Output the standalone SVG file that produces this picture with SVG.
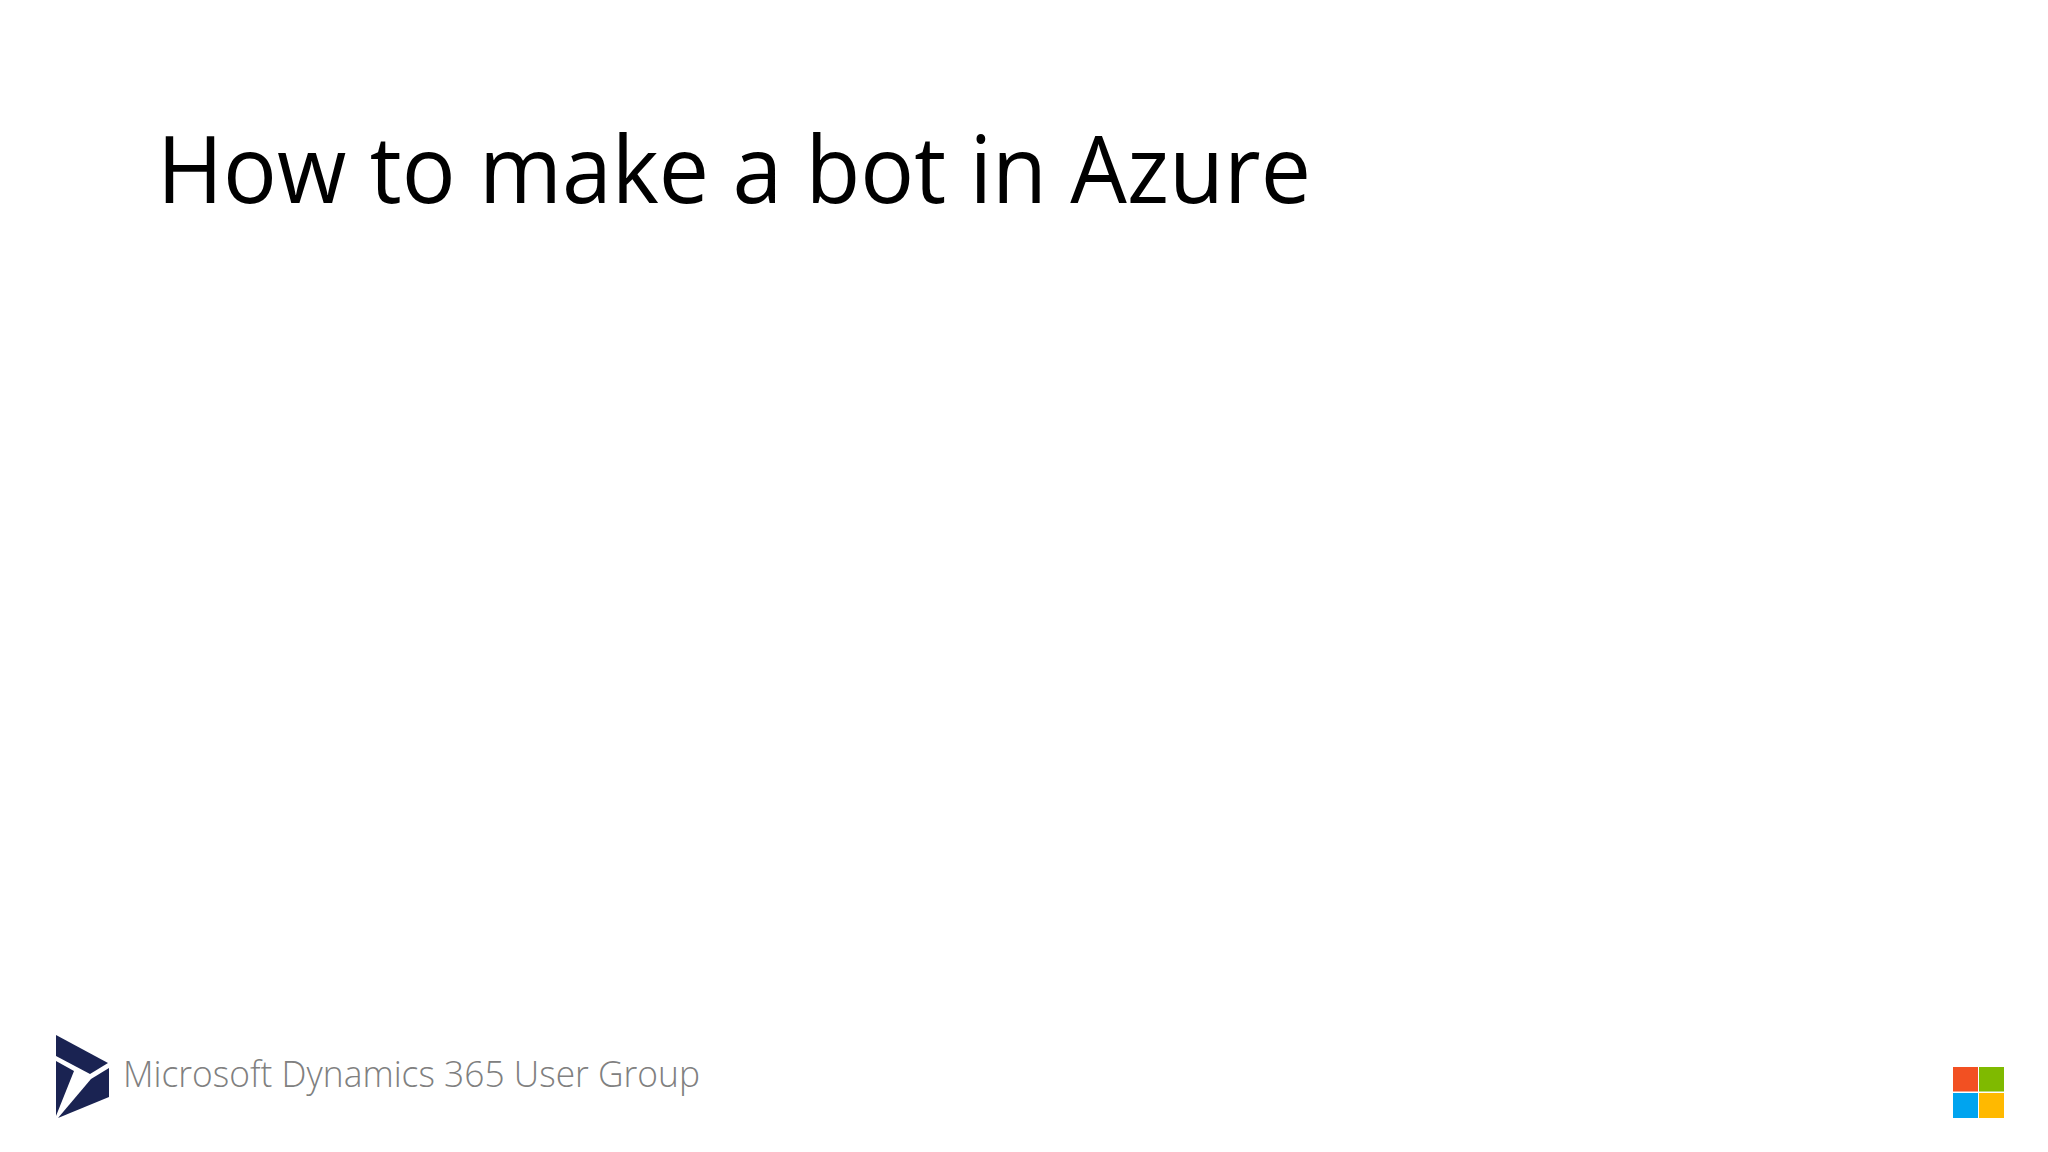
<svg xmlns="http://www.w3.org/2000/svg" width="2048" height="1152" viewBox="0 0 2048 1152">
<style>
.t{font-family:"Open Sans","Noto Sans","Liberation Sans",sans-serif}
.title{font-size:94px;fill:#000}
.foot{font-size:37px;font-weight:300;fill:#808080}
.navy{fill:#1a2352}
</style>
<rect width="2048" height="1152" fill="#fff"/>
<text id="title" class="t title" x="157" y="203" textLength="1154" lengthAdjust="spacingAndGlyphs">How to make a bot in Azure</text>
<g id="dynamics-logo">
<polygon class="navy" points="56,1035 108,1063 90,1074 56,1056"/>
<polygon class="navy" points="56,1061 74,1071 56,1116"/>
<polygon class="navy" points="109,1068 109,1097 58,1118 91,1079"/>
</g>
<text id="footer" class="t foot" x="123" y="1087" textLength="577" lengthAdjust="spacingAndGlyphs">Microsoft Dynamics 365 User Group</text>
<g id="microsoft-logo">
<rect x="1953" y="1067" width="25" height="24.500" fill="#f25022"/>
<rect x="1979" y="1067" width="25" height="24.500" fill="#7fba00"/>
<rect x="1953" y="1093" width="25" height="25" fill="#00a4ef"/>
<rect x="1979" y="1093" width="25" height="25" fill="#ffb900"/>
</g>
</svg>
